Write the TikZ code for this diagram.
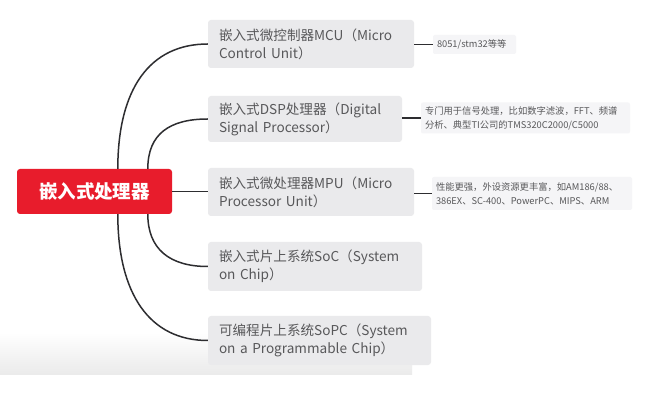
\documentclass[tikz,border=0pt]{standalone}
\usepackage{fontspec}
\setmainfont{Noto Sans CJK SC}
\usetikzlibrary{calc}
\definecolor{rootred}{RGB}{232,28,44}
\definecolor{boxgray}{RGB}{234,234,236}
\definecolor{leafgray}{RGB}{245,245,247}
\definecolor{txtgray}{RGB}{88,88,90}
\definecolor{linedark}{RGB}{45,45,48}
\begin{document}
\begin{tikzpicture}[x=1pt,y=-1pt,
  rootbox/.style={fill=rootred,rounded corners=3pt,text=white,font=\fontsize{18.5}{22}\selectfont\bfseries,inner sep=0pt,minimum width=155pt,minimum height=45pt},
  catbox/.style={fill=boxgray,rounded corners=3pt,text=txtgray,font=\fontsize{13.6}{18}\selectfont,inner sep=0pt,align=left},
  leafbox/.style={fill=leafgray,rounded corners=2pt,text=txtgray,font=\fontsize{9.3}{14}\selectfont,inner sep=0pt,align=left},
  conn/.style={draw=linedark,line width=1.5pt}]
\useasboundingbox (0,0) rectangle (649,417);
\fill[white] (0,0) rectangle (649,417);
\shade[top color=white,bottom color=black!8] (0,332) rectangle (412,374);

% root
\node[rootbox] (root) at (94.5,191.5) {嵌入式处理器};
\coordinate (ro) at ([xshift=101pt]root.north west);
\coordinate (ri) at ([xshift=131pt]root.north west);
\coordinate (rbo) at ([xshift=101pt]root.south west);
\coordinate (rbi) at ([xshift=131pt]root.south west);

% category boxes
\node[catbox,minimum width=206pt,minimum height=48pt,text width=184pt] (mcu) at (311,44) {嵌入式微控制器MCU（Micro\\Control Unit）};
\node[catbox,minimum width=194pt,minimum height=46pt,text width=172pt] (dsp) at (305,119) {嵌入式DSP处理器（Digital\\Signal Processor）};
\node[catbox,minimum width=206pt,minimum height=48pt,text width=184pt] (mpu) at (311,192) {嵌入式微处理器MPU（Micro\\Processor Unit）};
\node[catbox,minimum width=214pt,minimum height=49pt,text width=192pt] (soc) at (315,266.5) {嵌入式片上系统SoC（System\\on Chip）};
\node[catbox,minimum width=223pt,minimum height=49pt,text width=201pt] (sopc) at (319.5,340.5) {可编程片上系统SoPC（System\\on a Programmable Chip）};

% leaf boxes
\node[leafbox,minimum width=83pt,minimum height=19pt,text width=75pt] (l1) at (474.5,44.5) {8051/stm32等等};
\node[leafbox,minimum width=209pt,minimum height=31pt,text width=201pt] (l2) at (525.5,118) {专门用于信号处理，比如数字滤波，FFT、频谱\\分析、典型TI公司的TMS320C2000/C5000};
\node[leafbox,minimum width=200pt,minimum height=33pt,text width=192pt] (l3) at (532,193.5) {性能更强，外设资源更丰富，如AM186/88、\\386EX、SC-400、PowerPC、MIPS、ARM};

% connectors
\draw[conn] (ro) .. controls ($(ro)+(0,-80)$) and ($(mcu.west)+(-58,0)$) .. (mcu.west);
\draw[conn] (ri) .. controls ($(ri)+(0,-35)$) and ($(dsp.west)+(-38,0)$) .. (dsp.west);
\draw[conn] (root.east) -- (root.east -| mpu.west);
\draw[conn] (rbi) .. controls ($(rbi)+(0,35)$) and ($(soc.west)+(-38,0)$) .. (soc.west);
\draw[conn] (rbo) .. controls ($(rbo)+(0,80)$) and ($(sopc.west)+(-58,0)$) .. (sopc.west);

\draw[conn] (mcu.east |- l1.west) -- (l1.west);
\draw[conn] (dsp.east |- l2.west) -- (l2.west);
\draw[conn] (mpu.east |- l3.west) -- (l3.west);
\end{tikzpicture}
\end{document}
